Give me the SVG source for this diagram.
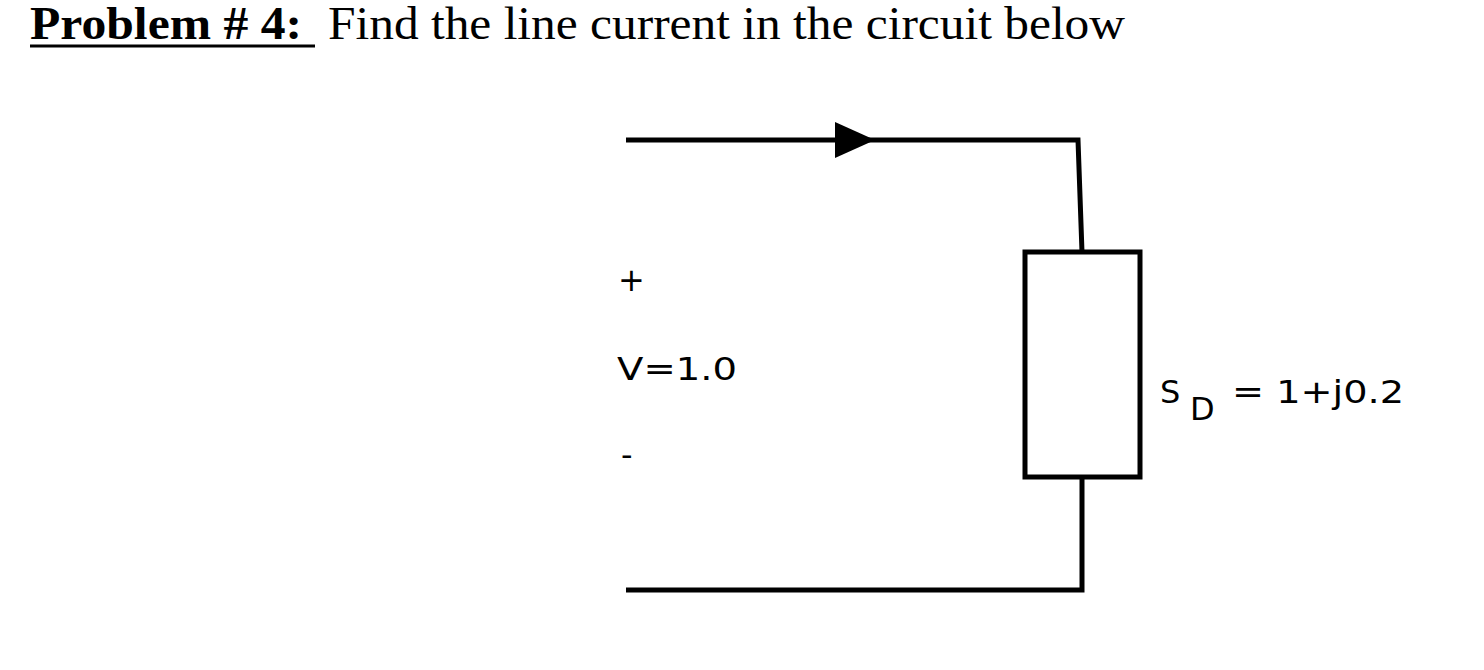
<svg xmlns="http://www.w3.org/2000/svg" width="1484" height="670" viewBox="0 0 1484 670">
<style>
.w{stroke:#000;stroke-width:5;fill:none}
.t{font-family:"Liberation Serif",serif;font-size:46px}
.d{font-family:"DejaVu Sans",sans-serif;font-size:32px}
</style>
<rect width="1484" height="670" fill="#fff"/>
<g id="title">
<text x="30" y="39" class="t" font-weight="bold" textLength="272" lengthAdjust="spacingAndGlyphs">Problem # 4:</text>
<text x="328" y="39" class="t" textLength="797" lengthAdjust="spacingAndGlyphs">Find the line current in the circuit below</text>
<line x1="30" y1="46" x2="315" y2="46" stroke="#000" stroke-width="3"/>
</g>
<g id="connectors">
<polyline class="w" points="626,140 1078,140 1082,252"/>
<polyline class="w" points="626,590 1082,590 1082,477"/>
<polygon points="835,122 875,140 835,158" fill="#000"/>
</g>
<g id="load">
<rect x="1025" y="252" width="115" height="225" class="w"/>
</g>
<g id="labels">
<text x="618" y="291" class="d">+</text>
<text x="617" y="380" class="d" textLength="120" lengthAdjust="spacingAndGlyphs">V=1.0</text>
<text x="621" y="466" class="d">-</text>
<text x="1160" y="403" class="d">S</text>
<text x="1190" y="420" class="d" font-size="25">D</text>
<text x="1232" y="403" class="d" textLength="172" lengthAdjust="spacingAndGlyphs">= 1+j0.2</text>
</g>
</svg>
